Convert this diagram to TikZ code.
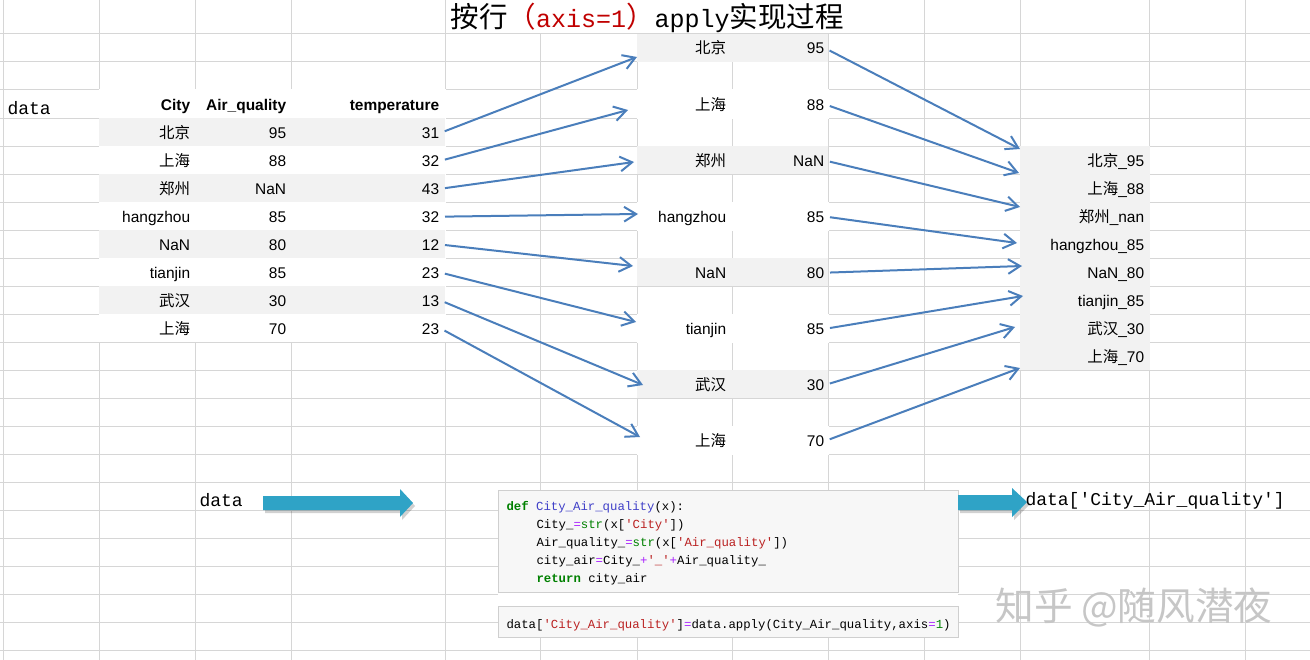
\documentclass[tikz,border=0pt]{standalone}
\usepackage{fontspec}
\setmainfont{Liberation Sans}
\setmonofont{Liberation Mono}
\newfontfamily\cjk{Noto Sans CJK SC}
\usetikzlibrary{arrows.meta}
\definecolor{gridgray}{HTML}{D6D6D6}
\definecolor{cellgray}{HTML}{F2F2F2}
\definecolor{linkblue}{HTML}{4A7EBB}
\definecolor{blockteal}{HTML}{2FA3C6}
\definecolor{titlered}{HTML}{C00000}
\definecolor{codebg}{HTML}{F7F7F7}
\definecolor{codeedge}{HTML}{CFCFCF}
\definecolor{kwgreen}{HTML}{008000}
\definecolor{fnblue}{HTML}{3F3FC8}
\definecolor{oppurple}{HTML}{AA22FF}
\definecolor{strred}{HTML}{BA2121}
\newcommand{\zh}[1]{{\cjk #1}}

\begin{document}
\begin{tikzpicture}[x=.75pt,y=-.75pt,line width=.75pt,
  gridline/.style={gridgray,line width=.75pt},
  cell/.style={anchor=base east,inner sep=1pt,font=\fontsize{11.6}{14}\selectfont},
  headcell/.style={cell,font=\bfseries\fontsize{11.6}{14}\selectfont},
  flow/.style={linkblue,line width=1.5pt,shorten <=3pt,-{Straight Barb[length=9pt,width=11pt]}},
  bigmono/.style={anchor=base west,inner sep=0pt,font=\ttfamily\fontsize{13.5}{16}\selectfont},
  codetext/.style={anchor=base west,inner sep=0pt,font=\ttfamily\fontsize{9.25}{11}\selectfont},
  codebox/.style={fill=codebg,draw=codeedge,line width=.75pt},
  blockarrow/.style={fill=blockteal,draw=none},
  blockshadow/.style={fill=black,opacity=.18,draw=none}]
\path[use as bounding box] (0,0) rectangle (1310,660);
% sheet grid
\foreach \gx in {3,99,195,291,445,540,637,732,828,924,1020,1149,1245}
  \draw[gridline] (\gx,0) -- (\gx,660);
\foreach \gy in {34,62,...,650}
  \draw[gridline] (0,\gy) -- (1310,\gy);
% title
\fill[white] (447,0) rectangle (852,33);
\node[anchor=base west,inner sep=0pt,font=\fontsize{21.4}{24}\selectfont] (title) at (450,28) {\zh{按行}\textcolor{titlered}{\zh{（}{\ttfamily\fontsize{18.75}{22}\selectfont axis=1}\zh{）}}{\ttfamily\fontsize{18.75}{22}\selectfont apply}\zh{实现过程}};
% source table
\node[bigmono] (data) at (7,114) {data};
\fill[white] (98.5,89.5) rectangle (445.5,341.5);
\fill[cellgray] (99,118) rectangle (445,146);
\fill[cellgray] (99,174) rectangle (445,202);
\fill[cellgray] (99,230) rectangle (445,258);
\fill[cellgray] (99,286) rectangle (445,314);
\node[headcell] (hcity) at (192,110) {City};
\node[headcell] (hair) at (288,110) {Air\_quality};
\node[headcell] (htemp) at (441,110) {temperature};
\node[cell] (lc1) at (192,138) {\zh{北京}};
\node[cell] (lq1) at (288,138) {95};
\node[cell] (lt1) at (441,138) {31};
\node[cell] (lc2) at (192,166) {\zh{上海}};
\node[cell] (lq2) at (288,166) {88};
\node[cell] (lt2) at (441,166) {32};
\node[cell] (lc3) at (192,194) {\zh{郑州}};
\node[cell] (lq3) at (288,194) {NaN};
\node[cell] (lt3) at (441,194) {43};
\node[cell] (lc4) at (192,222) {hangzhou};
\node[cell] (lq4) at (288,222) {85};
\node[cell] (lt4) at (441,222) {32};
\node[cell] (lc5) at (192,250) {NaN};
\node[cell] (lq5) at (288,250) {80};
\node[cell] (lt5) at (441,250) {12};
\node[cell] (lc6) at (192,278) {tianjin};
\node[cell] (lq6) at (288,278) {85};
\node[cell] (lt6) at (441,278) {23};
\node[cell] (lc7) at (192,306) {\zh{武汉}};
\node[cell] (lq7) at (288,306) {30};
\node[cell] (lt7) at (441,306) {13};
\node[cell] (lc8) at (192,334) {\zh{上海}};
\node[cell] (lq8) at (288,334) {70};
\node[cell] (lt8) at (441,334) {23};
% one row at a time
\fill[cellgray] (637,34) rectangle (828,62);
\fill[white] (636.5,89.5) rectangle (828.5,118.5);
\fill[cellgray] (637,146) rectangle (828,174);
\fill[white] (636.5,201.5) rectangle (828.5,230.5);
\fill[cellgray] (637,258) rectangle (828,286);
\fill[white] (636.5,313.5) rectangle (828.5,342.5);
\fill[cellgray] (637,370) rectangle (828,398);
\fill[white] (636.5,425.5) rectangle (828.5,454.5);
\node[cell] (mc1) at (728,54) {\zh{北京}};
\node[cell] (mq1) at (826,54) {95};
\node[cell] (mc2) at (728,110) {\zh{上海}};
\node[cell] (mq2) at (826,110) {88};
\node[cell] (mc3) at (728,166) {\zh{郑州}};
\node[cell] (mq3) at (826,166) {NaN};
\node[cell] (mc4) at (728,222) {hangzhou};
\node[cell] (mq4) at (826,222) {85};
\node[cell] (mc5) at (728,278) {NaN};
\node[cell] (mq5) at (826,278) {80};
\node[cell] (mc6) at (728,334) {tianjin};
\node[cell] (mq6) at (826,334) {85};
\node[cell] (mc7) at (728,390) {\zh{武汉}};
\node[cell] (mq7) at (826,390) {30};
\node[cell] (mc8) at (728,446) {\zh{上海}};
\node[cell] (mq8) at (826,446) {70};
% result column
\fill[cellgray] (1020,146) rectangle (1149.5,370);
\node[cell] (r1) at (1146,166) {\zh{北京}\_95};
\node[cell] (r2) at (1146,194) {\zh{上海}\_88};
\node[cell] (r3) at (1146,222) {\zh{郑州}\_nan};
\node[cell] (r4) at (1146,250) {hangzhou\_85};
\node[cell] (r5) at (1146,278) {NaN\_80};
\node[cell] (r6) at (1146,306) {tianjin\_85};
\node[cell] (r7) at (1146,334) {\zh{武汉}\_30};
\node[cell] (r8) at (1146,362) {\zh{上海}\_70};
% arrow ends
\coordinate (mi1) at (637,57);
\coordinate (mi2) at (628,110);
\coordinate (mi3) at (634,162);
\coordinate (mi4) at (638,214);
\coordinate (mi5) at (633,266);
\coordinate (mi6) at (636,322);
\coordinate (mi7) at (643,385);
\coordinate (mi8) at (640,437);
\coordinate (ri1) at (1020,149);
\coordinate (ri2) at (1019,173);
\coordinate (ri3) at (1020,207);
\coordinate (ri4) at (1017,243);
\coordinate (ri5) at (1022,266);
\coordinate (ri6) at (1023,296);
\coordinate (ri7) at (1015,327);
\coordinate (ri8) at (1020,368);
\draw[flow] (lt1.east) -- (mi1);
\draw[flow] (lt2.east) -- (mi2);
\draw[flow] (lt3.east) -- (mi3);
\draw[flow] (lt4.east) -- (mi4);
\draw[flow] (lt5.east) -- (mi5);
\draw[flow] (lt6.east) -- (mi6);
\draw[flow] (lt7.east) -- (mi7);
\draw[flow] (lt8.east) -- (mi8);
\draw[flow] (mq1.east) -- (ri1);
\draw[flow] (mq2.east) -- (ri2);
\draw[flow] (mq3.east) -- (ri3);
\draw[flow] (mq4.east) -- (ri4);
\draw[flow] (mq5.east) -- (ri5);
\draw[flow] (mq6.east) -- (ri6);
\draw[flow] (mq7.east) -- (ri7);
\draw[flow] (mq8.east) -- (ri8);
% code cells
\node[bigmono] (datain) at (199,506) {data};
\fill[blockshadow] (265,499) -- (402,499) -- (402,492) -- (415,506) -- (402,520) -- (402,513) -- (265,513) -- cycle;
\fill[blockarrow] (263,496) -- (400,496) -- (400,489) -- (413,503) -- (400,517) -- (400,510) -- (263,510) -- cycle;
\fill[white] (498,490) rectangle (958,637);
\draw[codebox] (498,490) rectangle (958,592);
\draw[codebox] (498,606) rectangle (958,637);
\node[codetext] (code1) at (506,510) {\textcolor{kwgreen}{\bfseries def} \textcolor{fnblue}{City\_Air\_quality}(x):};
\node[codetext] (code2) at (536,528) {City\_\textcolor{oppurple}{=}\textcolor{kwgreen}{str}(x[\textcolor{strred}{'City'}])};
\node[codetext] (code3) at (536,546) {Air\_quality\_\textcolor{oppurple}{=}\textcolor{kwgreen}{str}(x[\textcolor{strred}{'Air\_quality'}])};
\node[codetext] (code4) at (536,564) {city\_air\textcolor{oppurple}{=}City\_\textcolor{oppurple}{+}\textcolor{strred}{'\_'}\textcolor{oppurple}{+}Air\_quality\_};
\node[codetext] (code5) at (536,582) {\textcolor{kwgreen}{\bfseries return} city\_air};
\node[codetext] (code6) at (506,628) {data[\textcolor{strred}{'City\_Air\_quality'}]\textcolor{oppurple}{=}data.apply(City\_Air\_quality,axis\textcolor{oppurple}{=}\textcolor{kwgreen}{1})};
\fill[blockshadow] (960,498) -- (1014,498) -- (1014,491) -- (1029,505) -- (1014,520) -- (1014,513) -- (960,513) -- cycle;
\fill[blockarrow] (958,495) -- (1012,495) -- (1012,488) -- (1027,502) -- (1012,517) -- (1012,510) -- (958,510) -- cycle;
\node[bigmono] (result) at (1025,505) {data['City\_Air\_quality']};
\node[inner sep=0pt,text=gray!45,font=\cjk\fontsize{29}{32}\selectfont] (mark) at (1134,607) {知乎 @随风潜夜};
\end{tikzpicture}
\end{document}
